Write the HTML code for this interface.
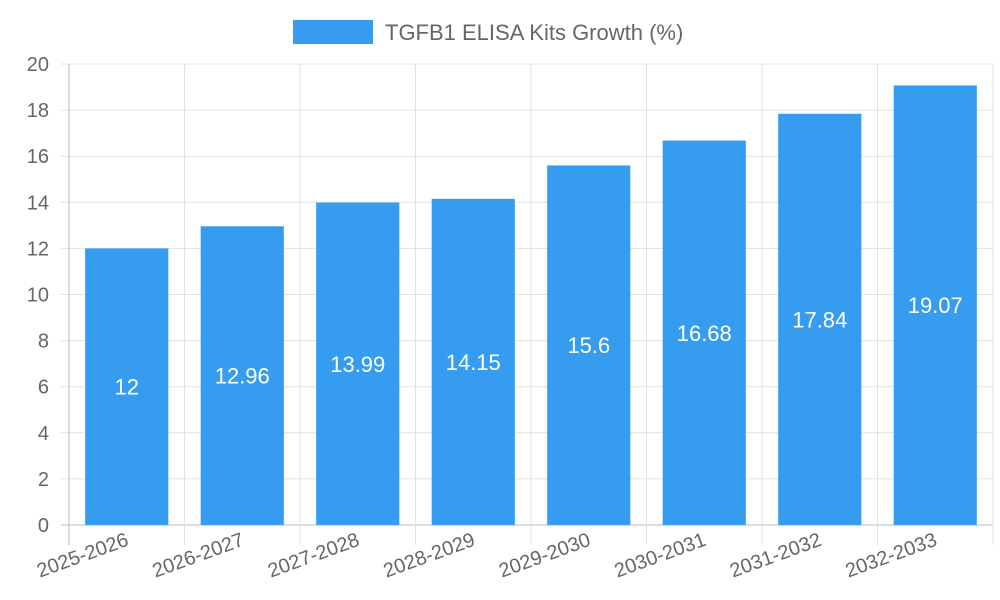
<!DOCTYPE html>
<html><head><meta charset="utf-8"><style>
html,body{margin:0;padding:0;background:#fff;}
svg{display:block;font-family:"Liberation Sans",sans-serif;}
</style></head><body>
<svg id="chart" width="1000" height="600">
<g>
<rect x="293" y="20" width="80" height="24" fill="#369cf0"/>
<text x="385" y="40" font-size="22" fill="#666">TGFB1 ELISA Kits Growth (%)</text>
</g>
<g id="grid"></g><g id="bars"></g><g id="labels"></g>
</svg>
<script>
const categories=["2025-2026","2026-2027","2027-2028","2028-2029","2029-2030","2030-2031","2031-2032","2032-2033"];
const values=[12,12.96,13.99,14.15,15.6,16.68,17.84,19.07];
const yTicks=[0,2,4,6,8,10,12,14,16,18,20];
const X0=69,X1=993,Y0=525,Y1=64,YMAX=20;
const bw=(X1-X0)/categories.length;
const xs=i=>X0+i*bw;
const ys=v=>Y0-(v/YMAX)*(Y0-Y1);
const NS="http://www.w3.org/2000/svg";
function mk(tag,attrs,parent){const e=document.createElementNS(NS,tag);for(const k in attrs)e.setAttribute(k,attrs[k]);parent.appendChild(e);return e;}
const grid=document.getElementById('grid'),bars=document.getElementById('bars'),labels=document.getElementById('labels');
yTicks.forEach(t=>{
 const y=ys(t);
 const l=mk('line',{x1:X0-8,x2:X1,y1:y,y2:y,stroke:t===0?'#bbb':'#e0e0e0','stroke-width':1},grid);
 
 
 const tx=mk('text',{x:X0-20,y:y+7,'text-anchor':'end','font-size':20,fill:'#666'},grid);
 tx.textContent=t;
 
 
});
for(let i=0;i<=categories.length;i++){
 const l=mk('line',{x1:xs(i),x2:xs(i),y1:Y1,y2:Y0+20,stroke:i===0?'#bbb':'#e0e0e0','stroke-width':1},grid);
 
 
}
categories.forEach((c,i)=>{
 const cx=xs(i)+bw/2, w=bw*0.72, v=values[i];
 const r=mk('rect',{x:cx-w/2,y:ys(v),width:w,height:Y0-ys(v),fill:'#369cf0'},bars);
 
 
 const vt=mk('text',{x:cx,y:(ys(v)+Y0)/2+8,'text-anchor':'middle','font-size':22,fill:'#fff'},labels);
 vt.textContent=v;
 
 
 const xt=mk('text',{x:0,y:0,'text-anchor':'end','font-size':20,fill:'#666',transform:`translate(${cx+3},${545}) rotate(-20)`},labels);
 xt.textContent=c;
 
 
});
</script>
</body></html>
